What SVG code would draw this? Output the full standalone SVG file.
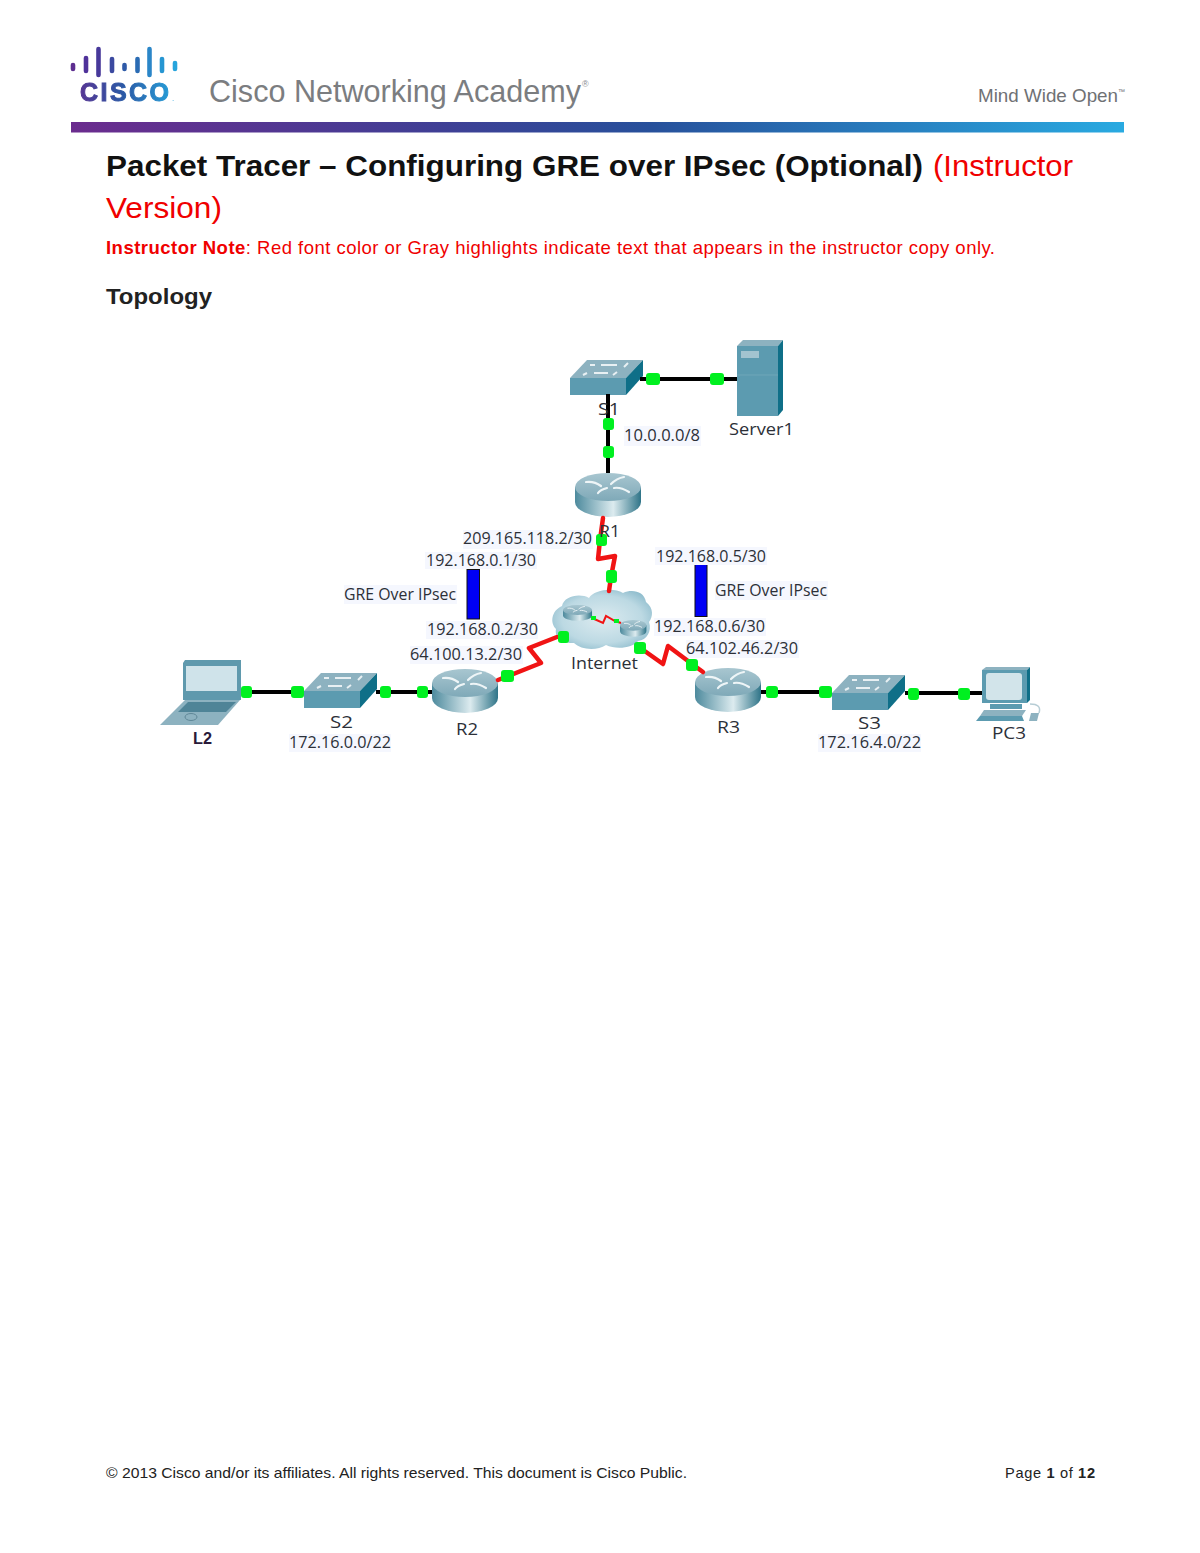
<svg xmlns="http://www.w3.org/2000/svg" width="1200" height="1553" viewBox="0 0 1200 1553">
<style>
text{font-family:"Liberation Sans",Arial,sans-serif}
.lbl{font-family:"Open Sans","DejaVu Sans",sans-serif;font-size:15.5px;fill:#2c3038}
.bg{fill:#f5f7fe}
.blk{fill:none;stroke:#000;stroke-width:4}
.red{fill:none;stroke:#f01414;stroke-width:4.500;stroke-linejoin:round;stroke-linecap:round}
.dot{fill:#00f020}
.tun{fill:#0000f5;stroke:#111;stroke-width:1}
.hdr{font-size:30.4px;font-weight:bold;fill:#111}
.redt{fill:#f00000}
.ftr{font-size:14.6px;fill:#222}
.cna{font-size:30.5px;fill:#7b7d80}
.tfc{fill:#8db2c0}.ffc{fill:#5c9bb0}.sfc{fill:#0f6f88}
.arw{fill:none;stroke:#eef5f7;stroke-width:2.200;stroke-linecap:round}
.bars line{stroke-width:4.6;stroke-linecap:round}
</style>
<defs>
<linearGradient id="band" x1="0" x2="1" y1="0" y2="0"><stop offset="0" stop-color="#6b2c8e"/><stop offset=".35" stop-color="#3f3f95"/><stop offset=".55" stop-color="#27509b"/><stop offset="1" stop-color="#29aae1"/></linearGradient>
<linearGradient id="logo" gradientUnits="userSpaceOnUse" x1="72" x2="176" y1="0" y2="0"><stop offset="0" stop-color="#5d2f90"/><stop offset=".5" stop-color="#2b5aa6"/><stop offset="1" stop-color="#27a4dc"/></linearGradient>
<linearGradient id="rb" x1="0" x2="1" y1="0" y2="0"><stop offset="0" stop-color="#4d8a9d"/><stop offset=".58" stop-color="#dcebef"/><stop offset="1" stop-color="#2f7488"/></linearGradient>
<linearGradient id="rt" x1="0" x2="0" y1="0" y2="1"><stop offset="0" stop-color="#a8c6d0"/><stop offset="1" stop-color="#7fa9b8"/></linearGradient>
<radialGradient id="cl" cx=".5" cy=".5" r=".62"><stop offset="0" stop-color="#dcebf0"/><stop offset=".65" stop-color="#bcd9e3"/><stop offset="1" stop-color="#86b7c9"/></radialGradient>
<filter id="soft" x="-5%" y="-5%" width="110%" height="110%"><feGaussianBlur stdDeviation="0.5"/></filter>
<symbol id="sw" width="74" height="35" viewBox="0 0 74 35" overflow="visible">
<path class="tfc" d="M0,18 17,0H73L56,18Z"/><path class="ffc" d="M0,18H56V35H0Z"/><path class="sfc" d="M56,18 73,0V16L56,35Z"/>
<path d="M20,5h5M58,3l-4,4M17,13l-4,2M47,12l-4,3M31,5h16M24,13h14" stroke="#e8f0f3" stroke-width="2" fill="none"/>
</symbol>
<symbol id="rt1" width="66" height="44" viewBox="0 0 66 44" overflow="visible">
<path d="M0,14V29A33,15 0 0 0 66,29V14Z" fill="url(#rb)"/><ellipse cx="33" cy="14" rx="33" ry="14" fill="url(#rt)"/>
<path class="arw" d="M11,9c7,-1 11,1 15,4M36,11c3,-3 7,-6 13,-7M23,20c2,-3 5,-4 9,-5M39,15c5,-1 10,1 15,4"/>
</symbol>
</defs>

<g id="header">
<g id="logo-mark" filter="url(#soft)">
<g class="bars">
<line x1="73" y1="65" x2="73" y2="69" stroke="#5d2f90"/><line x1="86" y1="58" x2="86" y2="71" stroke="#50339a"/><line x1="98.500" y1="49" x2="98.500" y2="75" stroke="#47389a"/><line x1="112" y1="59" x2="112" y2="71" stroke="#3a4aa0"/><line x1="124.500" y1="65" x2="124.500" y2="69" stroke="#2f5aa8"/><line x1="137.500" y1="59" x2="137.500" y2="71" stroke="#2c6cb4"/><line x1="149.500" y1="49" x2="149.500" y2="75" stroke="#2a86c8"/><line x1="162" y1="59" x2="162" y2="71" stroke="#2896d2"/><line x1="175" y1="63" x2="175" y2="69" stroke="#28a4dc"/>
</g>
<text x="80" y="101" font-size="25" font-weight="bold" fill="url(#logo)" stroke="url(#logo)" stroke-width="1" textLength="89" lengthAdjust="spacing">CISCO</text>
<text x="172" y="101" font-size="8" fill="#27a4dc">.</text>
</g>
<text x="209" y="102" class="cna" textLength="372" lengthAdjust="spacingAndGlyphs">Cisco Networking Academy</text>
<text x="582" y="87" font-size="9" fill="#8a8c8f">®</text>
<text x="978" y="102" font-size="18.500" fill="#6f7174" textLength="140" lengthAdjust="spacingAndGlyphs">Mind Wide Open</text>
<text x="1118" y="94" font-size="7" fill="#6f7174">™</text>
<rect x="71" y="122" width="1053" height="10.500" fill="url(#band)"/>
</g>

<g id="heading">
<text x="106" y="176" class="hdr" textLength="817" lengthAdjust="spacingAndGlyphs">Packet Tracer – Configuring GRE over IPsec (Optional)</text>
<text x="933" y="176" font-size="30.400" class="redt" textLength="140" lengthAdjust="spacingAndGlyphs">(Instructor</text>
<text x="106" y="218" font-size="30.400" class="redt" textLength="116" lengthAdjust="spacingAndGlyphs">Version)</text>
<text x="106" y="254" font-size="18.500" class="redt" textLength="889" lengthAdjust="spacing"><tspan font-weight="bold">Instructor Note</tspan>: Red font color or Gray highlights indicate text that appears in the instructor copy only.</text>
<text x="106" y="304" font-size="22" font-weight="bold" fill="#222" textLength="106" lengthAdjust="spacingAndGlyphs">Topology</text>
</g>

<g id="S1"><use href="#sw" x="570" y="360"/></g>
<g id="Server1">
<path class="ffc" d="M737,346H778V416H737Z"/><path class="tfc" d="M737,346 743,340H783L778,346Z"/><path class="sfc" d="M778,346 783,340V410L778,416Z"/>
<rect x="741" y="351" width="18" height="7" fill="#a3c4d0"/><path d="M737,375H778" stroke="#6fa6b8" stroke-width="1"/>
<text class="lbl" x="729" y="435" textLength="65" lengthAdjust="spacingAndGlyphs">Server1</text>
</g>
<g id="R1"><use href="#rt1" x="575" y="473"/></g>
<g id="R2"><use href="#rt1" x="432" y="669"/><text class="lbl" x="456" y="735" textLength="22" lengthAdjust="spacingAndGlyphs">R2</text></g>
<g id="R3"><use href="#rt1" x="695" y="668"/><text class="lbl" x="717" y="733" textLength="23" lengthAdjust="spacingAndGlyphs">R3</text></g>
<g id="S2"><use href="#sw" x="304" y="673"/><text class="lbl" x="330" y="728" textLength="23" lengthAdjust="spacingAndGlyphs">S2</text></g>
<g id="S3"><use href="#sw" x="832" y="675"/><text class="lbl" x="858" y="729" textLength="23" lengthAdjust="spacingAndGlyphs">S3</text></g>
<g id="L2">
<path fill="#5f99ad" d="M185,660H241V700H183V663Z"/><rect x="186" y="666" width="51" height="25" fill="#cfe3ea"/>
<path fill="#8db2c0" d="M185,700H240L218,725H160Z"/><path fill="#4f8497" d="M188,702H236L226,712H178Z"/>
<ellipse cx="191" cy="717" rx="6" ry="3.500" fill="none" stroke="#5f8797"/>
<text x="193" y="744" font-size="16" font-weight="bold" fill="#2a1a3a" textLength="19" lengthAdjust="spacingAndGlyphs">L2</text>
</g>
<g id="PC3">
<path class="ffc" d="M982,670H1027V703H982Z"/><path class="tfc" d="M982,670 986,667H1030L1027,670Z"/><path class="sfc" d="M1027,670 1030,667V700L1027,703Z"/>
<rect x="986" y="673" width="36" height="27" rx="3" fill="#d2e4ea"/>
<path class="ffc" d="M990,704H1022V709H990Z"/><path class="tfc" d="M984,710H1026L1022,716H980Z"/><path class="ffc" d="M980,716H1022L1024,721H976Z"/>
<path d="M1030,704c8,0 11,3 9,9" fill="none" stroke="#b7cdd5" stroke-width="1.500"/><path class="tfc" d="M1031,713h8l-2,8h-8Z"/>
<text class="lbl" x="992" y="739" textLength="34" lengthAdjust="spacingAndGlyphs">PC3</text>
</g>
<g id="Internet">
<path fill="url(#cl)" d="M562,606c2,-10 18,-13 27,-8 5,-8 24,-11 34,-5 9,-4 21,-2 23,9 8,6 7,15 3,20 3,9 -2,18 -11,19 -5,7 -22,9 -32,4 -9,6 -25,5 -32,-2 -10,1 -20,-5 -18,-14 -6,-6 -5,-18 6,-23Z"/>
<use href="#rt1" transform="translate(563,605) scale(.44,.36)"/><use href="#rt1" transform="translate(620,620) scale(.4,.38)"/>
<path d="M592,618 603,623 606,616 615,621 621,623" fill="none" stroke="#f01414" stroke-width="2"/>
<rect class="dot" x="591" y="616" width="5" height="4"/><rect class="dot" x="614" y="619" width="5" height="4"/>
<text class="lbl" x="571" y="669" textLength="67" lengthAdjust="spacingAndGlyphs">Internet</text>
</g>
<g id="tunnel-left"><rect class="tun" x="467" y="569.500" width="12.500" height="49.500"/></g>
<g id="tunnel-right"><rect class="tun" x="695" y="564.500" width="12" height="52"/></g>

<g id="labels">
<rect class="bg" x="624" y="426" width="77" height="20"/><text class="lbl" x="624" y="441" textLength="76" lengthAdjust="spacingAndGlyphs">10.0.0.0/8</text>
<rect class="bg" x="463" y="530" width="130" height="19"/><text class="lbl" x="463" y="544" textLength="129" lengthAdjust="spacingAndGlyphs">209.165.118.2/30</text>
<rect class="bg" x="425" y="552" width="112" height="17"/><text class="lbl" x="426" y="566" textLength="110" lengthAdjust="spacingAndGlyphs">192.168.0.1/30</text>
<rect class="bg" x="344" y="585" width="113" height="19"/><text class="lbl" x="344" y="600" textLength="112" lengthAdjust="spacingAndGlyphs">GRE Over IPsec</text>
<rect class="bg" x="426" y="621" width="112" height="18"/><text class="lbl" x="427" y="635" textLength="111" lengthAdjust="spacingAndGlyphs">192.168.0.2/30</text>
<rect class="bg" x="410" y="646" width="113" height="18"/><text class="lbl" x="410" y="660" textLength="112" lengthAdjust="spacingAndGlyphs">64.100.13.2/30</text>
<rect class="bg" x="289" y="734" width="102" height="18"/><text class="lbl" x="289" y="748" textLength="102" lengthAdjust="spacingAndGlyphs">172.16.0.0/22</text>
<rect class="bg" x="655" y="547" width="112" height="18"/><text class="lbl" x="656" y="562" textLength="110" lengthAdjust="spacingAndGlyphs">192.168.0.5/30</text>
<rect class="bg" x="715" y="581" width="113" height="19"/><text class="lbl" x="715" y="596" textLength="112" lengthAdjust="spacingAndGlyphs">GRE Over IPsec</text>
<rect class="bg" x="654" y="618" width="112" height="18"/><text class="lbl" x="654" y="632" textLength="111" lengthAdjust="spacingAndGlyphs">192.168.0.6/30</text>
<rect class="bg" x="686" y="640" width="113" height="18"/><text class="lbl" x="686" y="654" textLength="112" lengthAdjust="spacingAndGlyphs">64.102.46.2/30</text>
<rect class="bg" x="818" y="734" width="103" height="18"/><text class="lbl" x="818" y="748" textLength="103" lengthAdjust="spacingAndGlyphs">172.16.4.0/22</text>
</g>

<g id="connectors">
<path class="blk" d="M640,379H737M608,394V473M376,692H432M241,692H304M761,692H832M905,693H982"/>
<path class="red" d="M603,518 600,540 598,559 615,556 611,577 609,591"/>
<path class="red" d="M498,680 541,663 529,648 557,637"/>
<path class="red" d="M639,647 663,664 668,646 692,664 703,672"/>
<g id="link-dots">
<rect class="dot" x="646" y="373" width="14" height="12" rx="3"/><rect class="dot" x="710" y="373" width="14" height="12" rx="3"/>
<rect class="dot" x="603" y="418" width="11" height="12" rx="3"/><rect class="dot" x="603" y="446" width="11" height="12" rx="3"/>
<rect class="dot" x="596" y="534" width="11" height="12" rx="3"/><rect class="dot" x="606" y="570" width="11" height="13" rx="3"/>
<rect class="dot" x="501" y="670" width="13" height="12" rx="3"/><rect class="dot" x="558" y="631" width="11" height="12" rx="3"/>
<rect class="dot" x="634" y="642" width="12" height="12" rx="3"/><rect class="dot" x="686" y="659" width="12" height="12" rx="3"/>
<rect class="dot" x="241" y="686" width="11" height="12" rx="3"/><rect class="dot" x="291" y="686" width="13" height="12" rx="3"/>
<rect class="dot" x="380" y="686" width="11" height="12" rx="3"/><rect class="dot" x="417" y="686" width="11" height="12" rx="3"/>
<rect class="dot" x="766" y="686" width="12" height="12" rx="3"/><rect class="dot" x="819" y="686" width="13" height="12" rx="3"/>
<rect class="dot" x="908" y="688" width="11" height="12" rx="3"/><rect class="dot" x="958" y="688" width="12" height="12" rx="3"/>
</g>
</g>
<text class="lbl" x="598" y="415" textLength="22" lengthAdjust="spacingAndGlyphs">S1</text>
<text class="lbl" x="599" y="537" textLength="21" lengthAdjust="spacingAndGlyphs">R1</text>

<g id="footer">
<text x="106" y="1478" class="ftr" textLength="581" lengthAdjust="spacingAndGlyphs">© 2013 Cisco and/or its affiliates. All rights reserved. This document is Cisco Public.</text>
<text x="1005" y="1478" class="ftr" textLength="90" lengthAdjust="spacing">Page <tspan font-weight="bold">1</tspan> of <tspan font-weight="bold">12</tspan></text>
</g>
</svg>
